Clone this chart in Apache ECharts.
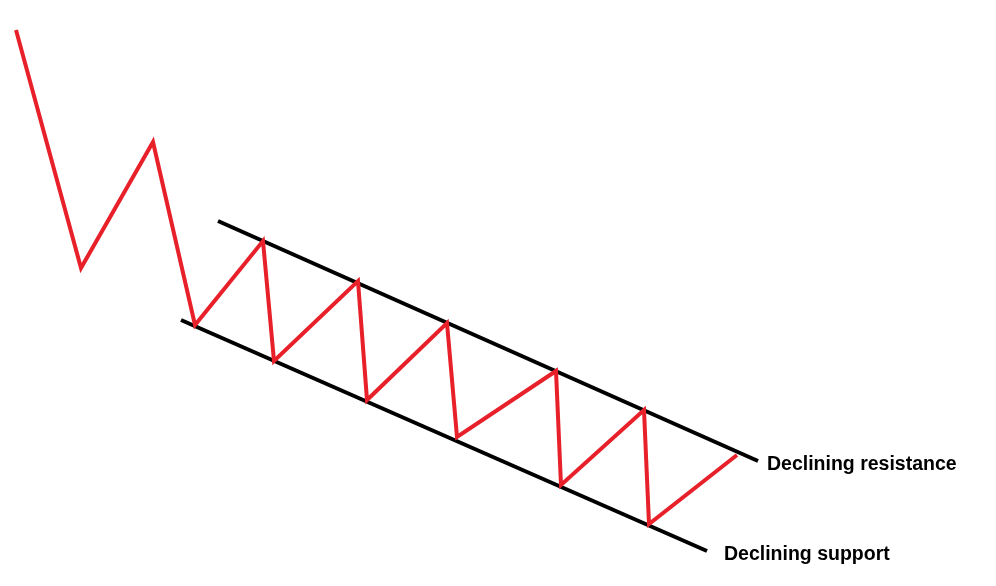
<!DOCTYPE html>
<html>
<head>
<meta charset="utf-8">
<script src="https://cdn.jsdelivr.net/npm/echarts@6/dist/echarts.min.js"></script>
<style>
  html, body { margin: 0; padding: 0; background: #fff; }
  #main { width: 996px; height: 586px; }
</style>
</head>
<body>
<div id="main"></div>
<script>
// price path (x = time, y = level, measured top-down)
var zigX = [16, 81, 153, 195, 263, 274, 358, 367, 447, 457, 556, 561, 644, 649, 737]
var zigY = [30, 268, 142, 325, 241, 361, 281, 400, 323, 437, 371, 485, 410, 524, 455]

// channel boundaries
var resistanceX = [218, 758]
var resistanceY = [221, 461]
var supportX = [181, 707]
var supportY = [320, 551]

var resistanceName = 'Declining resistance'
var supportName = 'Declining support'

var pairs = function (xs, ys) { return xs.map(function (x, i) { return [x, ys[i]] }) }

var myChart = echarts.init(document.getElementById('main'))

var endLabel = function (dist) {
  return {
    show: true,
    formatter: '{a}',
    distance: dist,
    offset: [0, 4],
    color: '#000',
    fontFamily: 'Liberation Sans, Arial, sans-serif',
    fontWeight: 'bold',
    fontSize: 19.5
  }
}

myChart.setOption({
  animation: false,
  backgroundColor: '#fff',
  grid: { left: 0, right: 0, top: 0, bottom: 0 },
  xAxis: { type: 'value', min: 0, max: 996, show: false },
  yAxis: { type: 'value', min: 0, max: 586, inverse: true, show: false },
  series: [
    {
      name: resistanceName,
      type: 'line',
      data: pairs(resistanceX, resistanceY),
      symbol: 'none',
      lineStyle: { color: '#000', width: 4 },
      endLabel: endLabel(9)
    },
    {
      name: supportName,
      type: 'line',
      data: pairs(supportX, supportY),
      symbol: 'none',
      lineStyle: { color: '#000', width: 4 },
      endLabel: endLabel(17)
    },
    {
      name: 'price',
      type: 'line',
      data: pairs(zigX, zigY),
      symbol: 'none',
      lineStyle: { color: '#e8202a', width: 4, join: 'miter' }
    }
  ]
})
</script>
</body>
</html>
